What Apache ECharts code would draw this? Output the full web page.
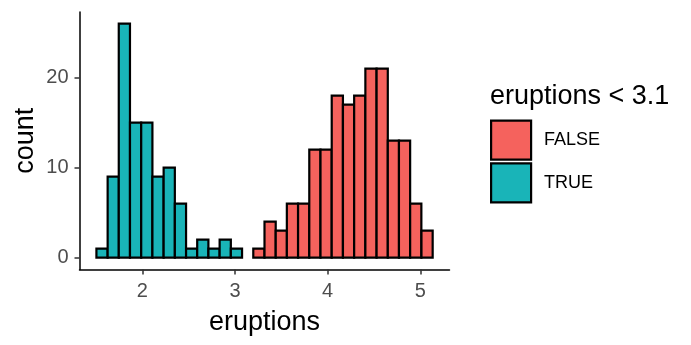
<!DOCTYPE html>
<html>
<head>
<meta charset="utf-8">
<script src="https://cdn.jsdelivr.net/npm/echarts@6/dist/echarts.min.js"></script>
<style>html,body{margin:0;padding:0;background:#fff;}#chart{width:691px;height:345px;}</style>
</head>
<body>
<div id="chart"></div>
<script>
// Bin centers of the histogram (30 bins)
const binCenters = [1.566, 1.687, 1.807, 1.928, 2.049, 2.170, 2.291, 2.412, 2.533, 2.653,
  2.774, 2.895, 3.016, 3.137, 3.258, 3.379, 3.500, 3.620, 3.741, 3.862,
  3.983, 4.104, 4.225, 4.346, 4.467, 4.588, 4.709, 4.829, 4.950, 5.072];
const binWidth = 0.1209;
// counts per bin for each group
const countsTRUE  = [1, 9, 26, 15, 15, 9, 10, 6, 1, 2, 1, 2, 1, 0, 0, 0, 0, 0, 0, 0, 0, 0, 0, 0, 0, 0, 0, 0, 0, 0];
const countsFALSE = [0, 0, 0, 0, 0, 0, 0, 0, 0, 0, 0, 0, 0, 0, 1, 4, 3, 6, 6, 12, 12, 18, 17, 18, 21, 21, 13, 13, 6, 3];
const groupNames = ['FALSE', 'TRUE'];
const groupColors = ['#F5625D', '#19B4B8'];
const xTicks = [2, 3, 4, 5];
const yTicks = [0, 10, 20];

const FONT = 'Liberation Sans, Arial, Helvetica, sans-serif';

function renderBin(params, api) {
  const c = api.value(1);
  if (!c) return null;
  const x = api.value(0);
  const p0 = api.coord([x - binWidth / 2, 0]);
  const p1 = api.coord([x + binWidth / 2, c]);
  return {
    type: 'rect',
    shape: { x: p0[0], y: p1[1], width: p1[0] - p0[0], height: p0[1] - p1[1] },
    style: { fill: api.visual('color'), stroke: '#000', lineWidth: 2.2 }
  };
}

const groups = [countsFALSE, countsTRUE];
const series = groups.map((counts, gi) => ({
  name: groupNames[gi],
  type: 'custom',
  renderItem: renderBin,
  itemStyle: { color: groupColors[gi], borderColor: '#000', borderWidth: 2.2 },
  encode: { x: 0, y: 1 },
  data: binCenters.map((c, i) => [c, counts[i]])
}));

const chart = echarts.init(document.getElementById('chart'), null, { renderer: 'canvas' });
chart.setOption({
  animation: false,
  backgroundColor: '#fff',
  title: {
    text: 'eruptions < 3.1',
    left: 485, top: 78,
    textStyle: { fontFamily: FONT, fontSize: 27, fontWeight: 'normal', color: '#000' }
  },
  legend: {
    orient: 'vertical',
    left: 490, top: 119.5,
    padding: 0,
    itemWidth: 40, itemHeight: 39, itemGap: 1.5,
    icon: 'rect',
    data: groupNames,
    itemStyle: { borderColor: '#000', borderWidth: 2.2 },
    textStyle: { fontFamily: FONT, fontSize: 18, color: '#000', padding: [0, 0, 0, 8] }
  },
  grid: { left: 79.5, right: 241.5, top: 12, bottom: 75.6 },
  xAxis: {
    type: 'value', min: 1.323, max: 5.314,
    name: 'eruptions', nameLocation: 'middle', nameGap: 40,
    nameTextStyle: { fontFamily: FONT, fontSize: 27, color: '#000' },
    axisLine: { show: true, onZero: false, lineStyle: { color: '#000', width: 1.5 } },
    axisTick: { show: true, length: 5, lineStyle: { color: '#333', width: 1.5 }, customValues: xTicks },
    axisLabel: { fontFamily: FONT, fontSize: 20, color: '#4D4D4D', margin: 12, customValues: xTicks },
    splitLine: { show: false }
  },
  yAxis: {
    type: 'value', min: -1.3, max: 27.3,
    name: 'count', nameLocation: 'middle', nameGap: 40, nameMoveOverlap: false,
    nameTextStyle: { fontFamily: FONT, fontSize: 27, color: '#000' },
    axisLine: { show: true, onZero: false, lineStyle: { color: '#000', width: 1.5 } },
    axisTick: { show: true, length: 5, lineStyle: { color: '#333', width: 1.5 }, customValues: yTicks },
    axisLabel: { fontFamily: FONT, fontSize: 20, color: '#4D4D4D', margin: 11, customValues: yTicks },
    splitLine: { show: false }
  },
  series: series
});
</script>
</body>
</html>
